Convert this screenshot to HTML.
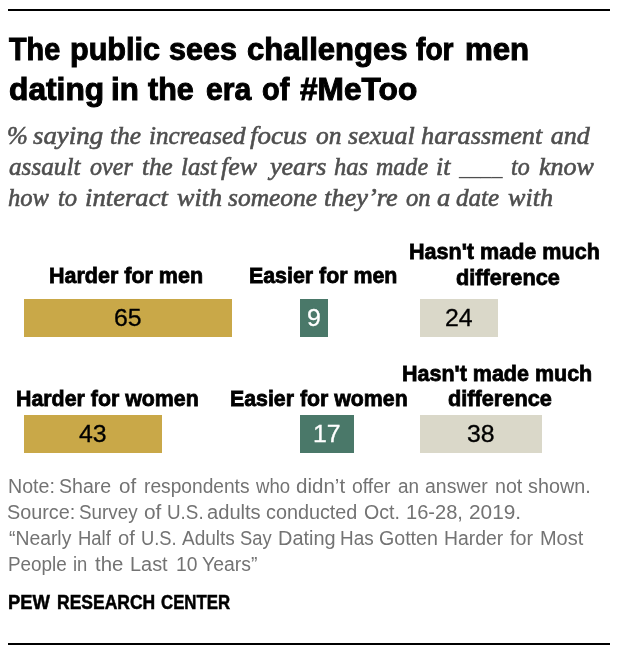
<!DOCTYPE html>
<html lang="en">
<head>
<meta charset="utf-8">
<title>The public sees challenges for men dating in the era of #MeToo</title>
<style>
html,body{margin:0;padding:0;background:#fff}
body{width:634px;height:652px;position:relative;overflow:hidden}
h1,p,figure{margin:0;padding:0;font-weight:inherit;font-size:inherit}
.ln{display:block;position:absolute;left:0;width:634px;height:0;white-space:pre}
.t{position:absolute;top:0;white-space:pre;line-height:1;transform-origin:0 0}
.b{position:absolute}
.gold{background:#C9A848}.green{background:#4A7869}.gray{background:#DAD8C9}
.r{position:absolute;left:8px;width:602px;height:2px;background:#000}
.ti{font:bold 31px 'Liberation Sans', sans-serif;line-height:1;color:#000;-webkit-text-stroke:1.0px #000}
.su{font:italic 26px 'Liberation Serif', serif;line-height:1;color:#4f4f4f;-webkit-text-stroke:0.6px #4f4f4f}
.lb{font:bold 22.7px 'Liberation Sans', sans-serif;line-height:1;color:#000;-webkit-text-stroke:0.8px #000}
.no{font:20px 'Liberation Sans', sans-serif;line-height:1;color:#737373}
.pw{font:bold 19.5px 'Liberation Sans', sans-serif;line-height:1;color:#000;-webkit-text-stroke:0.5px #000}
.va{font:23px 'Liberation Sans', sans-serif;line-height:1;color:#000;transform:scaleX(1.08);-webkit-text-stroke:0.3px #000}
.va.w{color:#fff;-webkit-text-stroke-color:#fff}
</style>
</head>
<body>
<div class="r" style="top:9px"></div>
<h1>
<span class="ln ti" style="top:34.40px"><span class="t" style="left:9.03px;transform:scaleX(0.9286)">The</span> <span class="t" style="left:70.41px;transform:scaleX(0.9856)">public</span> <span class="t" style="left:168.90px;transform:scaleX(0.9838)">sees</span> <span class="t" style="left:246.70px;transform:scaleX(1.0019)">challenges</span> <span class="t" style="left:416.07px;transform:scaleX(0.9086)">for</span> <span class="t" style="left:465.09px;transform:scaleX(1.0065)">men</span></span>
<span class="ln ti" style="top:74.40px"><span class="t" style="left:8.80px;transform:scaleX(1.0239)">dating</span> <span class="t" style="left:111.29px;transform:scaleX(1.0080)">in</span> <span class="t" style="left:148.38px;transform:scaleX(0.9830)">the</span> <span class="t" style="left:205.50px;transform:scaleX(0.9729)">era</span> <span class="t" style="left:262.23px;transform:scaleX(0.9313)">of</span> <span class="t" style="left:300.00px;transform:scaleX(1.0209)">#MeToo</span></span>
</h1>
<p>
<span class="ln su" style="top:123.40px"><span class="t" style="left:7.10px;transform:scaleX(0.9591)">%</span> <span class="t" style="left:32.80px;transform:scaleX(1.0324)">saying</span> <span class="t" style="left:110.02px;transform:scaleX(0.9774)">the</span> <span class="t" style="left:148.53px;transform:scaleX(0.9650)">increased</span> <span class="t" style="left:250.48px;transform:scaleX(1.0390)">focus</span> <span class="t" style="left:316.10px;transform:scaleX(0.9800)">on</span> <span class="t" style="left:347.60px;transform:scaleX(1.0061)">sexual</span> <span class="t" style="left:420.60px;transform:scaleX(1.0116)">harassment</span> <span class="t" style="left:550.80px;transform:scaleX(1.0000)">and</span></span>
<span class="ln su" style="top:153.60px"><span class="t" style="left:9.30px;transform:scaleX(0.9693)">assault</span> <span class="t" style="left:90.30px;transform:scaleX(0.9255)">over</span> <span class="t" style="left:141.83px;transform:scaleX(0.9677)">the</span> <span class="t" style="left:180.64px;transform:scaleX(0.9568)">last</span> <span class="t" style="left:220.83px;transform:scaleX(1.0013)">few</span> <span class="t" style="left:270.06px;transform:scaleX(1.0013)">years</span> <span class="t" style="left:333.80px;transform:scaleX(0.9444)">has</span> <span class="t" style="left:375.57px;transform:scaleX(0.9243)">made</span> <span class="t" style="left:436.19px;transform:scaleX(1.0013)">it</span> <span class="t" style="left:459.34px;transform:scaleX(0.8370);-webkit-text-stroke:0">____</span> <span class="t" style="left:510.69px;transform:scaleX(0.9243)">to</span> <span class="t" style="left:538.91px;transform:scaleX(1.0013)">know</span></span>
<span class="ln su" style="top:184.90px"><span class="t" style="left:8.19px;transform:scaleX(0.9459)">how</span> <span class="t" style="left:57.57px;transform:scaleX(0.9459)">to</span> <span class="t" style="left:84.87px;transform:scaleX(1.0247)">interact</span> <span class="t" style="left:176.60px;transform:scaleX(1.0045)">with</span> <span class="t" style="left:228.30px;transform:scaleX(0.9791)">someone</span> <span class="t" style="left:324.39px;transform:scaleX(1.0141)">they’re</span> <span class="t" style="left:405.73px;transform:scaleX(0.9459)">on</span> <span class="t" style="left:436.54px;transform:scaleX(1.0247)">a</span> <span class="t" style="left:456.20px;transform:scaleX(0.9644)">date</span> <span class="t" style="left:508.40px;transform:scaleX(1.0045)">with</span></span>
</p>
<figure>
<section>
<span class="ln lb" style="top:264.10px"><span class="t" style="left:48.75px;transform:scaleX(0.9472)">Harder for men</span></span>
<div class="b gold" style="left:24px;top:299px;width:208px;height:38px"></div><span class="t va" style="left:114.26px;top:307.10px">65</span>
<span class="ln lb" style="top:264.10px"><span class="t" style="left:249.46px;transform:scaleX(0.9410)">Easier for men</span></span>
<div class="b green" style="left:300px;top:299px;width:28px;height:38px"></div><span class="t va w" style="left:306.98px;top:307.10px">9</span>
<span class="ln lb" style="top:240.40px"><span class="t" style="left:409.35px;transform:scaleX(0.9503)">Hasn't made much</span></span>
<span class="ln lb" style="top:266.00px"><span class="t" style="left:455.80px;transform:scaleX(0.9574)">difference</span></span>
<div class="b gray" style="left:420px;top:299px;width:78px;height:38px"></div><span class="t va" style="left:444.96px;top:307.10px">24</span>
</section>
<section>
<span class="ln lb" style="top:386.60px"><span class="t" style="left:15.96px;transform:scaleX(0.9415)">Harder for women</span></span>
<div class="b gold" style="left:24px;top:415px;width:138px;height:38px"></div><span class="t va" style="left:79.10px;top:423.30px">43</span>
<span class="ln lb" style="top:386.60px"><span class="t" style="left:230.46px;transform:scaleX(0.9394)">Easier for women</span></span>
<div class="b green" style="left:300px;top:415px;width:54px;height:38px"></div><span class="t va w" style="left:312.96px;top:423.30px">17</span>
<span class="ln lb" style="top:361.60px"><span class="t" style="left:401.55px;transform:scaleX(0.9472)">Hasn't made much</span></span>
<span class="ln lb" style="top:386.60px"><span class="t" style="left:448.00px;transform:scaleX(0.9574)">difference</span></span>
<div class="b gray" style="left:420px;top:415px;width:122px;height:38px"></div><span class="t va" style="left:466.96px;top:423.30px">38</span>
</section>
</figure>
<p>
<span class="ln no" style="top:476.00px"><span class="t" style="left:8.32px;transform:scaleX(0.9822)">Note:</span> <span class="t" style="left:59.12px;transform:scaleX(0.9788)">Share</span> <span class="t" style="left:119.21px;transform:scaleX(1.0270)">of</span> <span class="t" style="left:143.54px;transform:scaleX(0.9587)">respondents</span> <span class="t" style="left:256.03px;transform:scaleX(0.9292)">who</span> <span class="t" style="left:296.49px;transform:scaleX(1.0270)">didn’t</span> <span class="t" style="left:352.23px;transform:scaleX(0.9692)">offer</span> <span class="t" style="left:397.66px;transform:scaleX(0.9450)">an</span> <span class="t" style="left:425.33px;transform:scaleX(0.9730)">answer</span> <span class="t" style="left:494.72px;transform:scaleX(0.9815)">not</span> <span class="t" style="left:528.01px;transform:scaleX(0.9885)">shown.</span></span>
<span class="ln no" style="top:502.10px"><span class="t" style="left:7.31px;transform:scaleX(0.9909)">Source:</span> <span class="t" style="left:79.20px;transform:scaleX(0.9427)">Survey</span> <span class="t" style="left:143.97px;transform:scaleX(1.0420)">of</span> <span class="t" style="left:166.54px;transform:scaleX(0.9427)">U.S.</span> <span class="t" style="left:206.59px;transform:scaleX(1.0058)">adults</span> <span class="t" style="left:265.91px;transform:scaleX(0.9901)">conducted</span> <span class="t" style="left:364.32px;transform:scaleX(0.9794)">Oct.</span> <span class="t" style="left:406.40px;transform:scaleX(1.0037)">16-28,</span> <span class="t" style="left:469.15px;transform:scaleX(1.0420)">2019.</span></span>
<span class="ln no" style="top:528.00px"><span class="t" style="left:9.30px;transform:scaleX(0.9672)">“Nearly</span> <span class="t" style="left:77.78px;transform:scaleX(0.9229)">Half</span> <span class="t" style="left:118.32px;transform:scaleX(1.0139)">of</span> <span class="t" style="left:141.37px;transform:scaleX(0.9173)">U.S.</span> <span class="t" style="left:181.60px;transform:scaleX(0.9509)">Adults</span> <span class="t" style="left:239.80px;transform:scaleX(0.9173)">Say</span> <span class="t" style="left:277.50px;transform:scaleX(0.9964)">Dating</span> <span class="t" style="left:340.36px;transform:scaleX(0.9441)">Has</span> <span class="t" style="left:379.22px;transform:scaleX(0.9810)">Gotten</span> <span class="t" style="left:444.23px;transform:scaleX(0.9683)">Harder</span> <span class="t" style="left:509.60px;transform:scaleX(0.9870)">for</span> <span class="t" style="left:539.60px;transform:scaleX(0.9976)">Most</span></span>
<span class="ln no" style="top:554.10px"><span class="t" style="left:8.36px;transform:scaleX(0.9443)">People</span> <span class="t" style="left:73.38px;transform:scaleX(0.9210)">in</span> <span class="t" style="left:94.76px;transform:scaleX(1.0179)">the</span> <span class="t" style="left:129.51px;transform:scaleX(0.9946)">Last</span> <span class="t" style="left:175.64px;transform:scaleX(0.9619)">10</span> <span class="t" style="left:202.13px;transform:scaleX(0.9696)">Years”</span></span>
</p>
<p>
<span class="ln pw" style="top:592.75px"><span class="t" style="left:7.75px;transform:scaleX(0.9455)">PEW</span> <span class="t" style="left:56.60px;transform:scaleX(0.8972)">RESEARCH</span> <span class="t" style="left:160.90px;transform:scaleX(0.8613)">CENTER</span></span>
</p>
<div class="r" style="top:643px"></div>
</body>
</html>
